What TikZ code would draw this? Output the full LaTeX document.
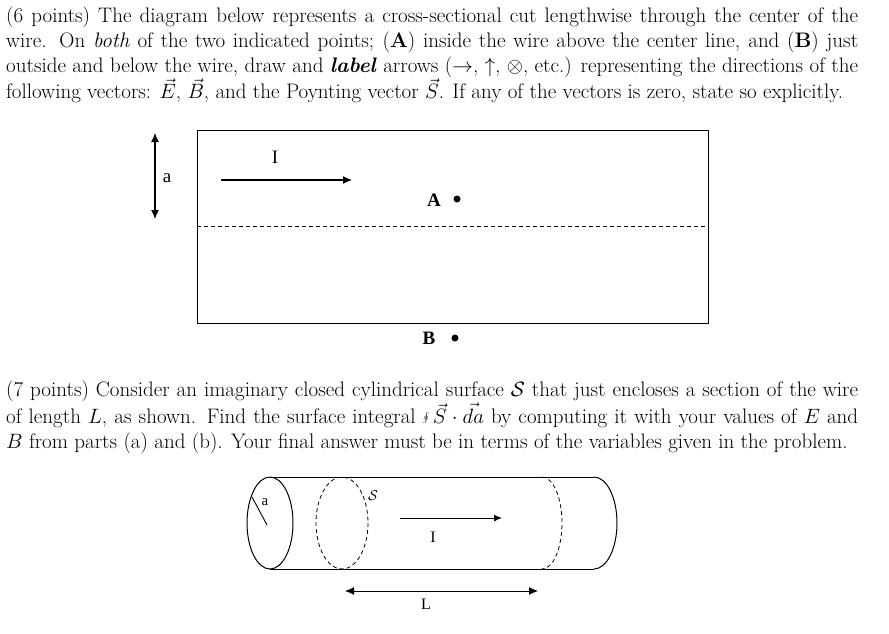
\documentclass[tikz,border=0pt]{standalone}
\usepackage{fontspec}
\newfontfamily\tnr{Liberation Serif}
\usetikzlibrary{arrows.meta}
\begin{document}
\begin{tikzpicture}[x=1pt,y=-1pt,
  para/.style={anchor=north west,text width=852pt,align=justify,inner sep=0pt,font=\fontsize{21}{24.7}\selectfont},
  lbl/.style={font=\tnr\fontsize{19}{20}\selectfont,inner sep=0pt},
  arr/.style={-{Latex[length=9pt,width=8pt]},line width=1.2pt},
  darr/.style={{Latex[length=9pt,width=8pt]}-{Latex[length=9pt,width=8pt]},line width=1.2pt},
  wire/.style={line width=1pt},
  dsh/.style={dash pattern=on 4pt off 3pt,line width=0.8pt},
  dot/.style={circle,fill,inner sep=0pt,minimum size=7pt}]
\useasboundingbox (0,0) rectangle (889,633);
\node[para] (p1) at (6,7) {(6 points) The diagram below represents a cross-sectional cut lengthwise through the center of the\linebreak wire. On \emph{both} of the two indicated points; (\textbf{A}) inside the wire above the center line, and (\textbf{B}) just\linebreak outside and below the wire, draw and \textbf{\emph{label}} arrows ($\rightarrow$, $\uparrow$, $\otimes$, etc.) representing the directions of the\linebreak following vectors: $\vec E$, $\vec B$, and the Poynting vector $\vec S$. If any of the vectors is zero, state so explicitly.};
% wire cross-section
\draw[wire] (197,130) rectangle (708,323);
\draw[dsh] (197,226) -- (708,226);
\coordinate (i1) at (221,180); \coordinate (i2) at (352,180);
\draw[arr] (i1) -- (i2);
\node[lbl] (I1) at (275,157) {I};
\coordinate (a1) at (155,133); \coordinate (a2) at (155,219);
\draw[darr] (a1) -- (a2);
\node[lbl] (a) at (167,178) {a};
\node[lbl,font=\tnr\bfseries\fontsize{19}{20}\selectfont] (A) at (434,200) {A};
\node[dot] (Ad) at (457,199) {};
\node[lbl,font=\tnr\bfseries\fontsize{19}{20}\selectfont] (B) at (429,338) {B};
\node[dot] (Bd) at (455,338) {};
\node[para] (p2) at (6,381) {(7 points) Consider an imaginary closed cylindrical surface $\mathcal S$ that just encloses a section of the wire\linebreak of length $L$, as shown. Find the surface integral $\oint \vec S\cdot\vec{da}$ by computing it with your values of $E$ and\linebreak $B$ from parts (a) and (b). Your final answer must be in terms of the variables given in the problem.};
% cylinder
\draw[wire] (270,523) ellipse [x radius=23,y radius=46];
\draw[wire] (270,477) -- (594,477);
\draw[wire] (270,569) -- (594,569);
\draw[wire] (594,477) arc[start angle=-90,end angle=90,x radius=23,y radius=46];
\draw[dsh] (342,523) ellipse [x radius=26,y radius=46];
\draw[dsh] (542,477) arc[start angle=-90,end angle=90,x radius=20,y radius=46];
\draw[dsh] (342,569) -- (542,569);
\coordinate (r1) at (252,497); \coordinate (r2) at (267,525);
\draw[line width=0.9pt] (r1) -- (r2);
\node[lbl,font=\tnr\fontsize{15}{16}\selectfont] (a2l) at (265,502) {a};
\node[inner sep=0pt,font=\fontsize{15}{16}\selectfont] (S) at (373,496) {$\mathcal S$};
\coordinate (j1) at (400,518); \coordinate (j2) at (502,518);
\draw[line width=1pt,-{Latex[length=8pt,width=7pt]}] (j1) -- (j2);
\node[lbl,font=\tnr\fontsize{16}{17}\selectfont] (I2) at (433,537) {I};
\coordinate (l1) at (345,591); \coordinate (l2) at (538,591);
\draw[darr,line width=1pt] (l1) -- (l2);
\node[lbl,font=\tnr\fontsize{16}{17}\selectfont] (L) at (426,604) {L};
\end{tikzpicture}
\end{document}
